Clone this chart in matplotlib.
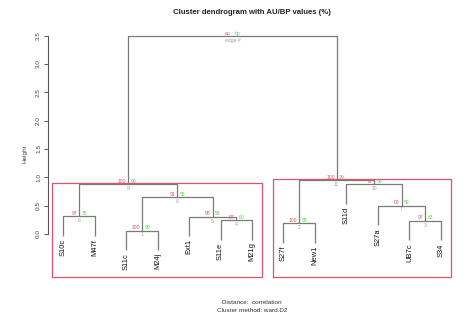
import numpy as np
import matplotlib.pyplot as plt

plt.rcParams['font.family'] = ['Liberation Sans', 'DejaVu Sans']

# leaves in plotted order
labels = ['S10c', 'M47f', 'S11c', 'M24j', 'Ext1', 'S11e', 'M21g',
          'S27f', 'New1', 'S11d', 'S27a', 'UB7c', 'S34']

# R style merge matrix: negative = leaf (1-based), positive = earlier merge
merge = [(-3, -4), (-8, -9), (-12, -13), (-6, -7), (-5, 4), (-1, -2),
         (-11, 3), (1, 5), (6, 8), (-10, 7), (2, 10), (9, 11)]
heights = [0.06, 0.19, 0.23, 0.24, 0.30, 0.31, 0.50, 0.65, 0.875, 0.88, 0.95, 3.49]
au = ['100', '100', '97', '97', '98', '97', '96', '91', '100', '76', '100', 'au']
bp = ['99', '89', '63', '60', '58', '75', '59', '55', '99', '58', '99', 'bp']
edge = [str(i + 1) for i in range(11)] + ['edge #']
clusters = [9, 11]  # merges boxed by pvrect

RED, GREEN, GREY = '#DF536B', '#61D04F', '#9E9E9E'
LINE = '#7a7a7a'

fig = plt.figure(figsize=(4.74, 3.26), dpi=100)
ax = fig.add_axes([48 / 474, 49 / 326, 408 / 474, 247 / 326])
n = len(labels)
ax.set_xlim(0.52, n + 0.48)
ax.set_ylim(-0.76, 3.6)

hang = 0.1 * (max(heights) - min(heights))
node_x = {}
node_h = {}
leaves_of = {}
for i, (a, b) in enumerate(merge):
    h = heights[i]
    xs, hs, lv = [], [], []
    for c in (a, b):
        if c < 0:
            xs.append(-c)
            hs.append(h - hang)
            lv.append(-c)
        else:
            xs.append(node_x[c])
            hs.append(node_h[c])
            lv += leaves_of[c]
    node_x[i + 1] = np.mean(xs)
    node_h[i + 1] = h
    leaves_of[i + 1] = lv
    ax.plot([xs[0], xs[0], xs[1], xs[1]], [hs[0], h, h, hs[1]],
            color=LINE, lw=0.9, solid_capstyle='butt')
    for c, hc in zip((a, b), hs):
        if c < 0:
            ax.text(-c, hc - 0.05, labels[-c - 1], rotation=90, ha='center',
                    va='top', fontsize=5.4, color='#111111')
    x0 = node_x[i + 1]
    ax.text(x0 - 0.06, h + 0.01, au[i], ha='right', va='bottom',
            fontsize=3.6, color=RED)
    ax.text(x0 + 0.08, h + 0.01, bp[i], ha='left', va='bottom',
            fontsize=3.6, color=GREEN)
    ax.text(x0, h - 0.03, edge[i], ha='center', va='top',
            fontsize=3.6, color=GREY)

for m in clusters:
    lv = leaves_of[m]
    x1, x2 = min(lv) - 0.34, max(lv) + 0.33
    top = node_h[m] + 0.02
    bot = ax.get_ylim()[0]
    ax.plot([x1, x1, x2, x2, x1], [bot, top, top, bot, bot],
            color=RED, lw=0.9, clip_on=False)

for s in ['top', 'right', 'bottom']:
    ax.spines[s].set_visible(False)
ax.spines['left'].set_bounds(0, 3.5)
ax.spines['left'].set_color('#555555')
ax.spines['left'].set_linewidth(0.8)
ax.set_xticks([])
yt = np.arange(0, 3.51, 0.5)
ax.set_yticks(yt)
ax.set_yticklabels(['%.1f' % v for v in yt], rotation=90, va='center',
                   fontsize=4.6, color='#444444')
ax.tick_params(axis='y', length=3, width=0.7, color='#555555', pad=2)
ax.set_ylabel('Height', fontsize=4.6, color='#444444', labelpad=6)

fig.text(252 / 474, 1 - 12 / 326, 'Cluster dendrogram with AU/BP values (%)',
         ha='center', va='center', fontsize=5.6, fontweight='bold', color='#222222')
fig.text(252 / 474, 1 - 303 / 326, 'Distance:  correlation',
         ha='center', va='center', fontsize=4.6, color='#333333')
fig.text(252 / 474, 1 - 311 / 326, 'Cluster method: ward.D2',
         ha='center', va='center', fontsize=4.6, color='#333333')

fig.savefig('out.png', dpi=100)
